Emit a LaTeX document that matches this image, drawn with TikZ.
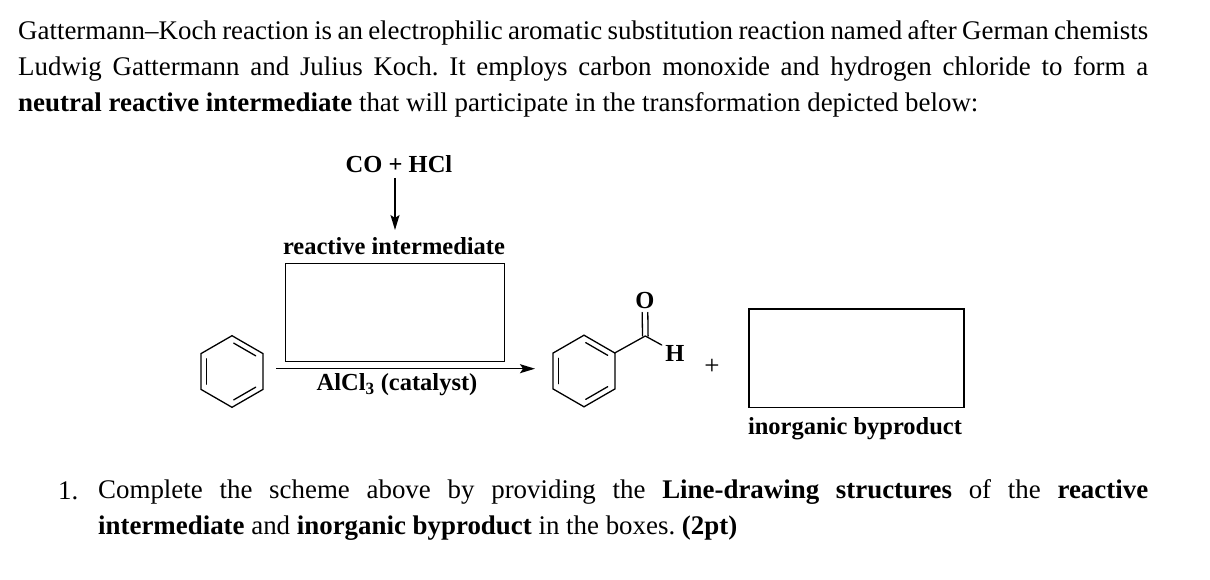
\documentclass[tikz,border=0pt]{standalone}
\usepackage{fontspec}
\setmainfont{Liberation Serif}
\usetikzlibrary{arrows.meta,calc}
\tikzset{
    para/.style={inner sep=0pt,anchor=north west,align=justify,font=\fontsize{26.9}{36}\selectfont\frenchspacing},
    chem/.style={inner sep=0pt,font=\fontsize{24.5}{28}\selectfont\bfseries},
    box/.style={draw,line width=1.4pt,inner sep=0pt,anchor=north west},
    bond/.style={line width=1.3pt,line cap=round},
    rxn/.style={line width=1.4pt,-{Stealth[length=15pt,width=9pt,inset=3pt]}}
}
\begin{document}
\begin{tikzpicture}[x=1pt,y=-1pt]
            \useasboundingbox (0,0) rectangle (1210,580);
            \node[para,text width=1130pt] (intro) at (18,20.5) {Gattermann--Koch reaction is an electrophilic aromatic substitution reaction named after German chemists\linebreak
                Ludwig Gattermann and Julius Koch. It employs carbon monoxide and hydrogen chloride to form a\linebreak
                \textbf{neutral reactive intermediate} that will participate in the transformation depicted below:};
            \node[chem] (reagent) at (399,164) {CO + HCl};
            \node[chem] (intlabel) at (394,246.5) {reactive intermediate};
            \node[box,minimum width=219pt,minimum height=97.5pt] (intbox) at (284.5,263) {};
            \node[chem] (catalyst) at (397,385) {AlCl$_{\mathbf 3}$ (catalyst)};
            \node[box,minimum width=215pt,minimum height=98.5pt] (byprodbox) at (748.3,308.3) {};
            \node[chem] (byprodlabel) at (855,429) {inorganic byproduct};
            \node[chem,font=\fontsize{27}{30}\selectfont] (plus) at (712,367) {+};
            \node[chem] (oxygen) at (645,301) {O};
            \node[chem] (hydrogen) at (675,353) {H};
            \foreach \cx/\cy/\n in {232/371.5/reactant,584/371/product}
            {
                \coordinate (\n) at (\cx,\cy);
                \foreach \k in {1,...,6}
                    \coordinate (\n\k) at ($(\n)+({30+60*\k}:-35.8)$);
                \draw[bond] (\n1) -- (\n2) -- (\n3) -- (\n4) -- (\n5) -- (\n6) -- cycle;
                \foreach \a/\b in {1/2,3/4,5/6}
                    \draw[bond,shorten <=2pt,shorten >=2pt] ($(\n)!.82!(\n\a)$) -- ($(\n)!.82!(\n\b)$);
            }
            \coordinate (arrowstart) at (276,368.7);
            \coordinate (arrowend) at (535,368.7);
            \coordinate (downstart) at (395,178);
            \coordinate (downend) at (395,230);
            \coordinate (carbonyl) at (645.3,336);
            \coordinate (ringjoin) at (614.7,353);
            \coordinate (ch) at (661.7,345);
            \draw[rxn] (arrowstart) -- (arrowend);
            \draw[rxn] (downstart) -- (downend);
            \draw[bond] (ringjoin) -- (carbonyl) -- (ch);
            \draw[bond] ($(carbonyl)+(-2.8,0)$) -- ($(oxygen.south)+(-2.8,3)$);
            \draw[bond] ($(carbonyl)+(2.8,0)$) -- ($(oxygen.south)+(2.8,3)$);
            \node[para] (number) at (58,481.5) {1.};
            \node[para,text width=1050pt] (question) at (98,479.5) {Complete the scheme above by providing the \textbf{Line-drawing structures} of the \textbf{reactive}\linebreak
                \textbf{intermediate} and \textbf{inorganic byproduct} in the boxes. \textbf{(2pt)}};
        \end{tikzpicture}
\end{document}
